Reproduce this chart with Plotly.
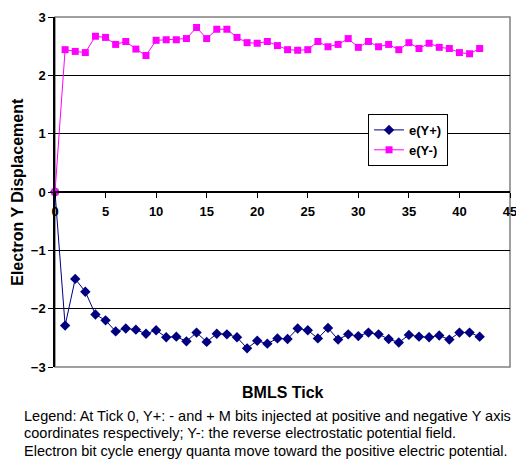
# Electron Y displacement per BMLS tick, redrawn with plotly

# Imports

# Third party
import plotly.graph_objects as go


# Globals

ticks = list(range(0, 43))

y_plus = [0, -2.29, -1.49, -1.71, -2.10, -2.20, -2.39, -2.34, -2.36, -2.43,
          -2.37, -2.49, -2.48, -2.56, -2.41, -2.57, -2.43, -2.44, -2.49, -2.68,
          -2.55, -2.60, -2.51, -2.52, -2.34, -2.37, -2.51, -2.33, -2.53, -2.44,
          -2.47, -2.41, -2.44, -2.52, -2.58, -2.45, -2.48, -2.49, -2.46, -2.53,
          -2.41, -2.41, -2.48]

y_minus = [0, 2.44, 2.41, 2.39, 2.67, 2.65, 2.53, 2.58, 2.45, 2.34,
           2.60, 2.61, 2.61, 2.63, 2.82, 2.63, 2.79, 2.79, 2.65, 2.56,
           2.55, 2.58, 2.51, 2.44, 2.43, 2.44, 2.58, 2.49, 2.53, 2.63,
           2.48, 2.58, 2.49, 2.53, 2.44, 2.56, 2.46, 2.55, 2.48, 2.46,
           2.39, 2.37, 2.46]

x_tick_values = [0, 5, 10, 15, 20, 25, 30, 35, 40, 45]
y_tick_values = [-3, -2, -1, 0, 1, 2, 3]

series_names = ["e(Y+)", "e(Y-)"]

caption_lines = [
    "Legend: At Tick 0, Y+: - and + M bits injected at positive and negative Y axis",
    "coordinates respectively; Y-: the reverse electrostatic potential field.",
    "Electron bit cycle energy quanta move toward the positive electric potential.",
]

FONT = "Arial, Liberation Sans, sans-serif"


# Figure

fig = go.Figure()

# A. The two series
fig.add_trace(go.Scatter(
    x=ticks, y=y_plus, name="<b>" + series_names[0] + "</b>", mode="lines+markers",
    line=dict(color="#000080", width=1),
    marker=dict(symbol="diamond", size=8, color="#000080"),
    cliponaxis=False))

fig.add_trace(go.Scatter(
    x=ticks, y=y_minus, name="<b>" + series_names[1] + "</b>", mode="lines+markers",
    line=dict(color="#FF00FF", width=1),
    marker=dict(symbol="square", size=7, color="#FF00FF"),
    cliponaxis=False))

# B. Plot area border (gray, like the excel chart)
fig.add_shape(type="rect", xref="x domain", yref="y domain",
              x0=0, x1=1, y0=0, y1=1,
              line=dict(color="#808080", width=1.5), layer="below")

# C. Layout
# the page body adds 8px on the top and left, so the figure is a bit smaller
fig.update_layout(
    width=516, height=462,
    margin=dict(l=47, r=14, t=9, b=103),
    paper_bgcolor="white", plot_bgcolor="white",
    font=dict(family=FONT, color="black"),
    showlegend=True,
    legend=dict(x=0.688, y=0.723, xanchor="left", yanchor="top",
                bgcolor="white", bordercolor="black", borderwidth=1,
                font=dict(size=13),
                tracegroupgap=0, itemwidth=30),
    xaxis=dict(range=[0, 45], tickvals=x_tick_values,
               anchor="free", position=0.5, automargin=False,
               showline=True, linecolor="black", linewidth=1.5,
               ticks="outside", ticklen=5, tickcolor="black",
               ticklabelstandoff=3,
               showgrid=False, zeroline=False,
               tickfont=dict(size=13, weight="bold")),
    yaxis=dict(range=[-3, 3], tickvals=y_tick_values, automargin=False,
               showline=True, linecolor="black", linewidth=1.5,
               ticks="outside", ticklen=5, tickcolor="black",
               showgrid=True, gridcolor="black", gridwidth=1,
               zeroline=False,
               tickfont=dict(size=13, weight="bold")),
)

# D. Titles and caption as annotations
fig.add_annotation(text="<b>Electron Y Displacement</b>", xref="paper", yref="paper",
                   x=-0.084, y=0.5, textangle=-90, showarrow=False,
                   xanchor="center", yanchor="middle",
                   font=dict(size=16, family=FONT))

fig.add_annotation(text="<b>BMLS Tick</b>", xref="paper", yref="paper",
                   x=0.5, y=-0.074, showarrow=False,
                   xanchor="center", yanchor="middle",
                   font=dict(size=16, family=FONT))

# one annotation per caption line so the spacing can match
for i, line in enumerate(caption_lines):
    fig.add_annotation(text=line, xref="paper", yref="paper",
                       x=-0.073, y=-0.139 - i * 0.05, showarrow=False, align="left",
                       xanchor="left", yanchor="middle",
                       font=dict(size=14.5, family=FONT))

fig.write_html("out.html")
